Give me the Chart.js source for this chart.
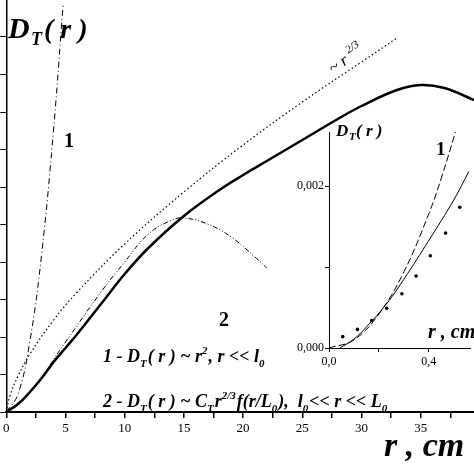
<!DOCTYPE html>
<html><head><meta charset="utf-8">
<script src="https://cdn.jsdelivr.net/npm/chart.js@4/dist/chart.umd.min.js"></script>
<style>body{margin:0;background:#fff}#w{position:relative;width:474px;height:474px}
#m{position:absolute;left:0;top:0}#i{position:absolute;left:286px;top:120px}</style>
</head><body><div id="w"><canvas id="m" width="474" height="474"></canvas><canvas id="i" width="188" height="260"></canvas></div>
<script>
const mainX=[0,1,2,3,4,5,6,8,10,12,15,18,20,22,25,28,30,33,35,37,39.5];
const mainY=[0,8,20,34,50,64,78,108,138,164,196,222,237,251,272,293,306,322,327,324,312];
const powX=[0,0.3,1,2,4,6,10,15,20,25,30,33];
const powY=[0,16,36,58,92,120,168,220,267,310,350,374];
const c1X=[0,1,2,3,4,4.8];
const c1Y=[0,18,71,159,283,407];
const c2X=[0,2,5,8,10,12,14,15,17,19,21,22];
const c2Y=[0,20,70,120,150,178,192,194,188,175,155,144];
const inDashX=[0,0.1,0.2,0.3,0.4,0.45,0.507];
const inDashY=[0,0.0001,0.00042,0.00094,0.00166,0.0021,0.00267];
const inSolX=[0.044,0.1,0.15,0.229,0.3,0.4,0.5,0.56];
const inSolY=[0,0.00011,0.00026,0.00054,0.00085,0.00133,0.00183,0.00218];
const dotX=[0.055,0.114,0.171,0.231,0.292,0.349,0.406,0.467,0.524];
const dotY=[0.00014,0.00023,0.00034,0.00049,0.00067,0.00089,0.00114,0.00142,0.00174];
const xTicks=[0,5,10,15,20,25,30,35];
const inXTicks=[0,0.4];
const inYTicks=[0,0.002];
const pts=(xs,ys)=>xs.map((x,k)=>({x,y:ys[k]}));
const SER='"Liberation Serif", "DejaVu Serif", serif';
function ds(xs,ys,dash,w,col){return{data:pts(xs,ys),borderColor:col||'#000',borderWidth:w,borderDash:dash,pointRadius:0,tension:0.4,fill:false};}
function run(g,x,y,parts){for(const [t,k] of parts){const sz=k?11:18;g.font='bold italic '+sz+'px '+SER;const dy=k==='sub'?5:k==='sup'?-8:0;g.fillText(t,x,y+dy);x+=g.measureText(t).width+(k?1:0);}}
const texts={id:'t',afterDraw(c){const g=c.ctx;g.save();g.fillStyle='#000';
 const f=(sz,st)=>g.font=(st||'bold italic')+' '+sz+'px '+SER;
 f(30);g.fillText('D',8,38);f(18);g.fillText('T',31,45);f(28);g.fillText('( r )',44,38);
 f(20,'bold');g.fillText('1',64,147);g.fillText('2',219,326);
 g.save();g.translate(333,74);g.rotate(-0.6);f(17,'italic');g.fillText('~ r',0,0);f(11,'italic');g.fillText('2/3',24,-8);g.restore();
 run(g,103,362,[['1 - D'],['T','sub'],['( r ) ~ r'],['2','sup'],[', r << l'],['0','sub']]);
 run(g,103,407,[['2 - D'],['T','sub'],['( r ) ~ C'],['T','sub'],['r'],['2/3','sup'],['f(r/L'],['0','sub'],['),  l'],['0','sub'],['<< r << L'],['0','sub']]);
 f(34);g.fillText('r , cm',384,456);g.restore();}};
new Chart(document.getElementById('m'),{type:'line',data:{datasets:[
 ds(mainX,mainY,[],2.5),ds(powX,powY,[1.5,2.5],1.2),ds(c1X,c1Y,[6,3,1,3],1),ds(c2X,c2Y,[5,2,1,2,1,2],1)]},
 options:{responsive:false,animation:false,layout:{padding:{top:0,right:0,left:0,bottom:0}},plugins:{legend:{display:false},tooltip:{enabled:false}},
 scales:{x:{type:'linear',min:0,max:39.5,afterFit:a=>{a.height=62},afterBuildTicks:a=>{a.ticks=[];for(let v=0;v<=37.5;v+=2.5)a.ticks.push({value:v});},
  border:{color:'#000',width:2},grid:{drawOnChartArea:false,color:'#000',tickLength:6,lineWidth:1.5},
  ticks:{color:'#000',font:{family:SER,size:13},maxRotation:0,autoSkip:false,callback:v=>xTicks.includes(v)?v:''}},
  y:{min:0,max:412,afterFit:a=>{a.width=6},afterBuildTicks:a=>{a.ticks=[];for(let v=0;v<=412;v+=37.5)a.ticks.push({value:v});},
  border:{color:'#000',width:1.5},grid:{drawOnChartArea:false,color:'#000',tickLength:6},ticks:{display:false}}}},plugins:[texts]});
const itexts={id:'it',afterDraw(c){const g=c.ctx;g.save();g.fillStyle='#000';
 g.font='bold italic 17px '+SER;g.fillText('D',50,16);g.font='bold italic 11px '+SER;g.fillText('T',63,20);g.font='bold italic 17px '+SER;g.fillText('( r )',70,16);
 g.font='bold 19px '+SER;g.fillText('1',150,35);g.font='bold italic 20px '+SER;g.fillText('r , cm',142,218);g.restore();}};
new Chart(document.getElementById('i'),{type:'line',data:{datasets:[
 ds(inDashX,inDashY,[7,3],1),ds(inSolX,inSolY,[],1),
 {type:'scatter',data:pts(dotX,dotY),pointRadius:1.8,backgroundColor:'#000',borderWidth:0,showLine:false}]},
 options:{responsive:false,animation:false,layout:{padding:{top:12,right:0}},plugins:{legend:{display:false},tooltip:{enabled:false}},
 scales:{x:{type:'linear',min:0,max:0.565,afterFit:a=>{a.height=32},afterBuildTicks:a=>{a.ticks=[{value:0},{value:0.2},{value:0.4}]},
  border:{color:'#000',width:1},grid:{drawOnChartArea:false,color:'#000',tickLength:4},
  ticks:{color:'#000',font:{family:SER,size:12},maxRotation:0,callback:v=>inXTicks.includes(v)?v.toFixed(1).replace('.',','):''}},
  y:{min:0,max:0.00267,afterFit:a=>{a.width=43},afterBuildTicks:a=>{a.ticks=[{value:0},{value:0.001},{value:0.002}]},
  border:{color:'#000',width:1},grid:{drawOnChartArea:false,color:'#000',tickLength:4},
  ticks:{color:'#000',font:{family:SER,size:12},padding:1,callback:v=>inYTicks.includes(v)?v.toFixed(3).replace('.',','):''}}}},plugins:[itexts]});
</script></body></html>
